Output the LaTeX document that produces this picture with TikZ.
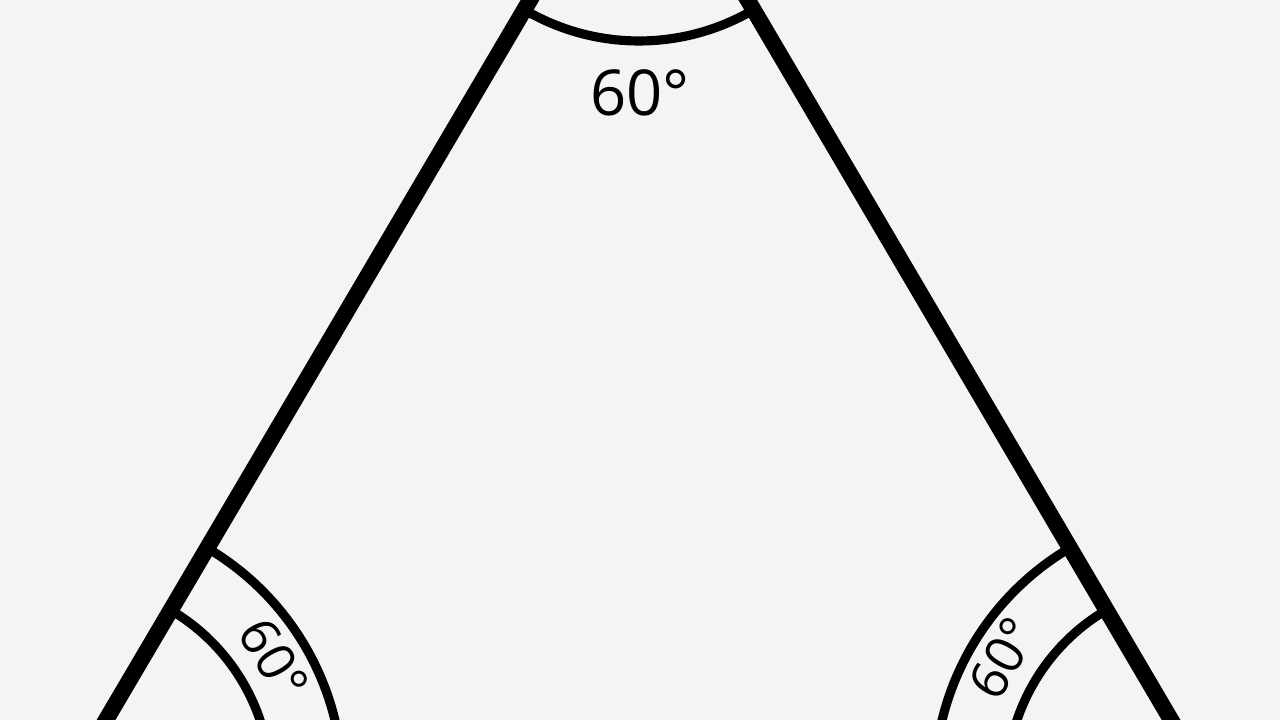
\documentclass[tikz,border=0pt]{standalone}
\usepackage{fontspec}
\setmainfont{Open Sans}
\usetikzlibrary{calc}
\definecolor{bgpaper}{RGB}{244,244,244}
\begin{document}
\begin{tikzpicture}[side/.style={line width=4.6pt, line join=miter},
  anglearc/.style={line width=2.6pt},
  anglelabel/.style={font=\fontsize{18}{18}\selectfont, inner sep=0pt},
  baselabel/.style={font=\fontsize{15}{15}\selectfont, inner sep=0pt}]
\useasboundingbox (0,-7.2) rectangle (12.8,0);
\fill[bgpaper] (0,-7.2) rectangle (12.8,0);
\clip (0,-7.2) rectangle (12.8,0);
\coordinate (A) at (6.39,1.85);
\coordinate (B) at (0.677,-7.85);
\coordinate (C) at (12.093,-7.85);
\draw[side] (A) -- (B) -- (C) -- cycle;
% top angle
\draw[anglearc] (A) ++(239.5:2.26) arc[start angle=239.5, end angle=300.5, radius=2.26];
\node[anglelabel] (ta) at (6.40,-0.93) {60°};
% left angle
\draw[anglearc] (B) ++(0:2.03) arc[start angle=0, end angle=59.5, radius=2.03];
\draw[anglearc] (B) ++(0:2.75) arc[start angle=0, end angle=59.5, radius=2.75];
\node[baselabel, rotate=-60] (la) at ($(B)+(31.5:2.42)$) {60°};
% right angle
\draw[anglearc] (C) ++(120.5:2.03) arc[start angle=120.5, end angle=180, radius=2.03];
\draw[anglearc] (C) ++(120.5:2.75) arc[start angle=120.5, end angle=180, radius=2.75];
\node[baselabel, rotate=60] (ra) at ($(C)+(148.5:2.42)$) {60°};
\end{tikzpicture}
\end{document}
